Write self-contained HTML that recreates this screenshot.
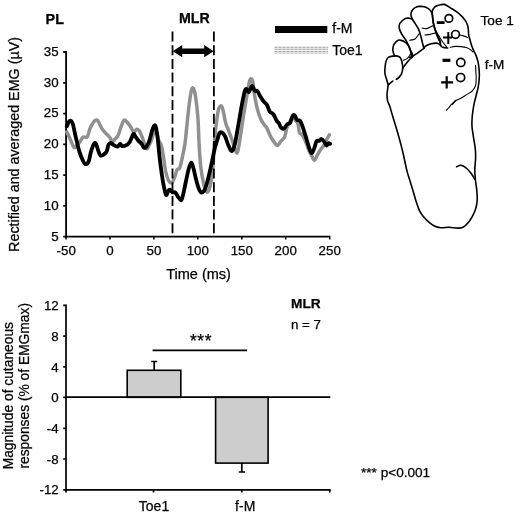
<!DOCTYPE html>
<html>
<head>
<meta charset="utf-8">
<title>Figure</title>
<style>
html,body{margin:0;padding:0;background:#fff;}
body{width:520px;height:515px;overflow:hidden;}
svg{display:block;}
text{font-family:"Liberation Sans",Arial,Helvetica,sans-serif;fill:#000;}
.t13{font-size:13.3px;}
text{stroke:#000;stroke-width:0.25px;}
.t14{font-size:14px;}
.b{font-weight:bold;}
</style>
</head>
<body>
<svg width="520" height="515" viewBox="0 0 520 515">
<rect x="0" y="0" width="520" height="515" fill="#fff"/>

<!-- top chart axes -->
<g stroke="#000" stroke-width="1.8" fill="none">
<path d="M66.1,51.1V236.65H329.7"/>
<path d="M63.2,52H66.2M63.2,82.8H66.2M63.2,113.6H66.2M63.2,144.3H66.2M63.2,175.1H66.2M63.2,205.9H66.2M63.2,236.7H66.2"/>
<path d="M66.1,236.7V239.6M110,236.7V239.6M153.9,236.7V239.6M197.8,236.7V239.6M241.8,236.7V239.6M285.7,236.7V239.6M329.7,235.8V239.6" stroke-width="1.5"/>
</g>
<g class="t13" text-anchor="end">
<text x="58.6" y="55.8">35</text>
<text x="58.6" y="86.6">30</text>
<text x="58.6" y="117.4">25</text>
<text x="58.6" y="148.1">20</text>
<text x="58.6" y="178.9">15</text>
<text x="58.6" y="209.7">10</text>
<text x="58.6" y="240.5">5</text>
</g>
<g class="t13" text-anchor="middle">
<text x="66.2" y="255">-50</text>
<text x="110" y="255">0</text>
<text x="153.9" y="255">50</text>
<text x="197.8" y="255">100</text>
<text x="241.8" y="255">150</text>
<text x="285.7" y="255">200</text>
<text x="329.7" y="255">250</text>
</g>
<text font-size="14.5" x="198.6" y="278.8" text-anchor="middle">Time (ms)</text>
<text font-size="14.3" transform="translate(18.9,251.9) rotate(-90)">Rectified and averaged EMG (µV)</text>
<text class="b" font-size="14.4" x="45.6" y="24">PL</text>
<text class="b" font-size="14.2" x="194.3" y="22.9" text-anchor="middle">MLR</text>

<!-- arrow -->
<path d="M172.7,51.2L182.2,45.1V48.5H204.2V45.1L213.7,51.2L204.2,57.3V53.9H182.2V57.3Z" fill="#000"/>

<path d="M66.8,132.1C67.3,133.1 68.7,135.9 69.7,138.0C70.7,140.1 71.8,143.2 72.6,144.8C73.4,146.4 73.8,147.7 74.6,147.7C75.4,147.7 76.5,145.9 77.5,144.8C78.5,143.7 79.4,142.2 80.4,140.9C81.4,139.6 82.2,137.7 83.3,137.0C84.4,136.3 86.1,138.4 87.2,137.0C88.3,135.6 89.0,130.9 90.1,128.3C91.2,125.7 92.9,122.9 94.0,121.5C95.1,120.1 96.1,119.9 96.9,120.1C97.7,120.2 98.0,121.0 98.8,122.4C99.6,123.8 100.6,126.5 101.7,128.3C102.8,130.1 104.3,131.7 105.6,133.1C106.9,134.5 108.4,135.6 109.5,137.0C110.6,138.4 111.4,141.5 112.4,141.8C113.4,142.1 114.3,140.0 115.3,138.9C116.3,137.8 117.3,137.1 118.3,135.0C119.3,132.9 120.2,128.8 121.2,126.3C122.2,123.8 123.1,120.8 124.1,120.1C125.1,119.4 125.9,120.8 127.0,122.0C128.1,123.2 129.8,125.6 130.9,127.3C132.0,129.0 132.8,131.8 133.8,132.1C134.8,132.4 135.7,129.3 136.7,129.2C137.7,129.0 138.6,129.7 139.6,131.2C140.6,132.7 141.4,135.1 142.5,138.0C143.6,140.9 145.3,147.5 146.4,148.6C147.5,149.7 148.3,146.6 149.3,144.8C150.3,143.0 151.3,140.5 152.2,138.0C153.1,135.5 153.8,131.0 154.5,130.0C155.2,129.0 155.8,130.3 156.5,132.0C157.2,133.7 157.8,137.7 158.6,140.0C159.4,142.3 160.6,143.1 161.4,146.0C162.2,148.9 162.9,153.2 163.6,157.5C164.3,161.8 164.9,167.7 165.7,171.5C166.5,175.3 167.4,178.3 168.4,180.2C169.4,182.1 170.9,183.2 171.9,182.8C172.9,182.4 173.6,179.8 174.5,177.6C175.4,175.4 176.2,171.3 177.1,169.7C178.0,168.1 178.8,170.0 179.7,168.0C180.6,166.0 181.4,161.6 182.3,157.5C183.2,153.4 184.3,148.4 185.0,143.5C185.7,138.6 185.9,135.1 186.6,128.3C187.3,121.5 188.6,108.9 189.4,102.6C190.2,96.2 190.9,92.6 191.5,90.2C192.1,87.8 192.6,87.5 193.2,88.2C193.8,88.9 194.4,89.8 195.2,94.5C196.0,99.2 197.1,108.0 197.8,116.6C198.5,125.2 198.7,137.7 199.2,146.0C199.7,154.3 200.0,160.2 200.7,166.2C201.4,172.2 202.4,177.9 203.3,182.0C204.2,186.1 205.1,189.1 205.9,190.7C206.7,192.3 207.3,192.5 208.0,191.6C208.7,190.7 209.6,188.3 210.3,185.5C211.0,182.7 211.6,178.9 212.1,175.0C212.6,171.1 212.9,167.8 213.3,162.0C213.7,156.2 214.0,147.2 214.6,140.0C215.2,132.8 216.2,124.2 216.9,119.0C217.6,113.8 218.0,110.7 218.8,108.5C219.6,106.3 220.8,105.5 221.6,106.1C222.4,106.7 222.7,109.1 223.4,112.0C224.1,114.9 224.9,120.5 225.8,123.6C226.7,126.7 227.6,127.9 228.6,130.6C229.6,133.3 230.9,136.7 232.1,140.0C233.3,143.3 234.7,148.4 235.6,150.4C236.5,152.4 236.8,154.2 237.6,151.9C238.4,149.7 239.3,143.0 240.3,136.9C241.3,130.8 242.4,122.4 243.5,115.6C244.6,108.8 245.8,102.0 246.8,96.3C247.8,90.6 248.8,84.3 249.5,81.4C250.2,78.5 250.5,78.8 251.0,78.8C251.5,78.8 252.1,78.5 252.7,81.4C253.3,84.3 253.9,91.7 254.7,96.3C255.5,100.9 256.4,105.3 257.4,109.1C258.4,112.8 259.5,116.3 260.6,118.8C261.7,121.3 262.7,122.5 263.8,124.1C264.9,125.7 265.9,126.4 267.0,128.4C268.1,130.4 269.2,133.8 270.3,135.9C271.4,138.0 272.3,139.6 273.5,141.2C274.7,142.8 276.1,145.5 277.3,145.5C278.5,145.5 279.7,142.6 280.9,141.2C282.1,139.8 283.6,139.0 284.6,136.9C285.6,134.8 285.9,130.9 286.7,128.4C287.5,125.9 288.5,123.8 289.5,122.0C290.5,120.2 291.6,117.9 292.7,117.7C293.8,117.5 295.0,119.8 295.9,120.9C296.8,122.0 297.4,122.1 298.0,124.1C298.6,126.1 298.8,130.9 299.5,132.7C300.2,134.5 301.3,133.4 302.3,134.8C303.3,136.2 304.4,138.7 305.5,141.2C306.6,143.7 307.6,147.2 308.7,149.7C309.8,152.2 310.9,154.4 311.9,156.2C312.9,158.0 313.6,160.6 314.5,160.4C315.4,160.2 316.3,156.9 317.3,155.1C318.3,153.3 319.4,151.3 320.5,149.7C321.6,148.1 322.6,147.3 323.7,145.5C324.8,143.7 325.9,140.8 326.9,139.0C327.8,137.2 329.0,135.5 329.4,134.8" fill="none" stroke="#909090" stroke-width="3.5" stroke-linejoin="round" stroke-linecap="round"/>
<path d="M66.8,126.3C67.3,125.4 68.7,121.4 69.7,120.9C70.7,120.4 71.6,120.9 72.6,123.4C73.6,125.9 74.4,131.3 75.5,136.0C76.6,140.7 78.1,147.4 79.4,151.6C80.7,155.8 82.2,159.2 83.3,161.3C84.4,163.4 85.3,164.2 86.2,164.2C87.1,164.2 87.9,163.4 88.7,161.3C89.5,159.2 90.1,154.5 91.0,151.6C91.9,148.7 93.2,145.1 94.0,143.8C94.8,142.5 95.3,142.8 96.0,143.8C96.7,144.8 97.2,147.7 97.9,149.6C98.6,151.5 99.4,154.6 100.4,155.4C101.4,156.2 102.7,155.1 103.7,154.5C104.7,153.9 105.8,153.2 106.6,151.6C107.4,150.0 107.8,146.3 108.5,144.8C109.2,143.3 109.7,142.8 110.5,142.8C111.3,142.8 112.3,144.2 113.4,144.8C114.5,145.5 116.2,146.9 117.3,146.7C118.4,146.5 119.4,143.9 120.2,143.8C121.0,143.7 121.0,145.9 122.1,146.1C123.2,146.3 125.7,145.5 127.0,144.8C128.3,144.1 128.8,143.6 129.9,141.8C131.0,140.0 132.4,134.9 133.4,134.1C134.4,133.3 134.8,135.9 135.7,137.0C136.6,138.1 137.6,139.8 138.6,140.9C139.6,142.0 140.7,142.7 141.6,143.8C142.5,144.9 143.1,147.2 143.9,147.7C144.7,148.2 145.5,147.8 146.4,146.7C147.3,145.6 148.3,143.7 149.3,140.9C150.3,138.2 151.3,132.8 152.2,130.2C153.1,127.6 153.9,125.6 154.6,125.3C155.2,125.0 155.5,125.9 156.1,128.3C156.7,130.8 157.3,135.1 157.9,140.0C158.5,144.9 158.9,151.7 159.6,157.5C160.3,163.3 161.2,170.1 161.9,175.0C162.6,179.9 163.3,183.8 164.0,187.2C164.7,190.5 165.4,194.5 166.1,195.1C166.8,195.7 167.7,191.6 168.4,190.7C169.1,189.8 169.4,189.5 170.1,189.8C170.8,190.1 171.8,192.0 172.7,192.4C173.6,192.8 174.4,191.7 175.3,192.4C176.2,193.1 177.0,195.5 178.0,196.8C179.0,198.1 180.2,200.7 181.1,200.3C182.0,199.9 182.4,197.2 183.2,194.2C184.0,191.1 184.9,186.1 185.8,182.0C186.7,177.9 187.6,172.9 188.5,169.7C189.4,166.5 190.3,163.0 191.1,162.7C191.9,162.4 192.6,165.4 193.4,168.0C194.2,170.6 194.9,175.2 195.8,178.5C196.7,181.8 197.7,185.8 198.6,188.1C199.5,190.4 200.1,192.0 201.0,192.4C201.9,192.8 203.2,192.1 204.2,190.7C205.2,189.2 205.9,186.6 206.8,183.7C207.7,180.8 208.5,177.0 209.4,173.2C210.3,169.4 211.2,165.1 212.1,161.0C213.0,156.9 213.8,152.2 214.7,148.7C215.6,145.2 216.5,142.6 217.3,140.0C218.1,137.4 218.5,134.7 219.3,133.4C220.1,132.2 221.0,132.0 222.0,132.5C223.0,133.0 224.1,134.4 225.1,136.4C226.1,138.4 227.1,142.3 228.1,144.6C229.1,146.9 230.1,149.5 230.9,150.4C231.7,151.3 232.2,151.6 233.0,150.0C233.8,148.4 234.6,145.3 235.5,141.0C236.4,136.7 237.4,130.0 238.5,124.0C239.6,118.0 240.8,110.3 241.8,105.0C242.8,99.7 243.8,94.7 244.5,92.0C245.2,89.3 245.6,89.0 246.3,89.0C247.0,89.0 247.9,92.5 248.9,92.0C249.9,91.5 251.1,86.0 252.1,85.8C253.1,85.6 253.9,90.1 254.8,91.0C255.7,91.9 256.5,90.1 257.4,91.0C258.3,91.9 259.1,94.5 260.2,96.3C261.3,98.1 262.7,100.3 263.8,101.7C264.9,103.1 266.0,103.3 267.0,104.9C268.0,106.5 268.5,109.7 269.6,111.3C270.7,112.9 272.3,112.9 273.5,114.5C274.7,116.1 275.8,119.5 276.7,120.9C277.6,122.3 278.1,121.9 278.8,123.0C279.5,124.1 280.1,126.3 280.9,127.3C281.7,128.3 282.6,129.3 283.7,128.8C284.8,128.3 286.3,125.1 287.4,124.1C288.5,123.1 289.3,124.2 290.1,123.0C290.9,121.8 291.6,117.9 292.3,116.6C293.0,115.3 293.6,114.6 294.4,115.1C295.2,115.6 296.0,118.8 297.0,119.8C298.0,120.8 299.2,119.7 300.2,120.9C301.2,122.2 301.9,124.6 302.9,127.3C303.8,130.0 304.9,133.7 305.9,136.9C306.9,140.1 307.8,143.8 308.7,146.5C309.6,149.2 310.6,152.5 311.5,152.9C312.4,153.3 313.2,150.6 314.1,148.7C315.0,146.8 315.7,142.5 316.6,141.2C317.5,139.9 318.6,141.2 319.4,140.8C320.2,140.4 320.6,138.8 321.5,139.0C322.4,139.2 323.9,141.2 324.7,142.3C325.5,143.4 325.9,145.3 326.5,145.5C327.1,145.7 328.0,143.6 328.6,143.3C329.2,143.0 329.9,143.7 330.1,143.8" fill="none" stroke="#000" stroke-width="3.8" stroke-linejoin="round" stroke-linecap="round"/>
<!-- dashed window -->
<g stroke="#000" stroke-width="1.8" stroke-dasharray="10 3.7" fill="none">
<path d="M172.5,31.5V236"/>
<path d="M213.9,31.5V236"/>
</g>

<!-- legend -->
<rect x="275" y="26" width="52.3" height="7" fill="#000"/>
<rect x="274.5" y="46.4" width="53.6" height="7.4" fill="#f1f1f1"/>
<g stroke="#a4a4a4" stroke-width="1" stroke-dasharray="3.1 0.9" fill="none">
<path d="M274.5,47.3H328.1"/>
<path d="M274.5,49.3H328.1"/>
<path d="M274.5,51.6H328.1"/>
<path d="M274.5,53.2H328.1" stroke="#c4c4c4"/>
</g>
<text font-size="14" x="332.3" y="33.2">f-M</text>
<text font-size="14" x="332.3" y="54.9">Toe1</text>

<!-- foot -->
<g fill="none" stroke="#000" stroke-width="1.6" stroke-linecap="round" stroke-linejoin="round">
<path d="M423.7,47.8C423.5,47.0 423.0,45.0 422.5,43.1C422.0,41.2 421.5,38.4 420.8,36.1C420.1,33.8 419.5,31.2 418.5,29.1C417.5,27.0 416.1,25.1 415.0,23.3C413.9,21.6 412.8,20.1 412.1,18.6C411.4,17.2 410.9,15.9 410.9,14.6C410.9,13.2 411.4,11.7 412.1,10.5C412.8,9.3 413.8,8.3 415.0,7.6C416.2,6.9 418.1,6.5 419.6,6.4C421.2,6.3 422.8,6.4 424.3,6.8C425.8,7.2 427.2,7.9 428.4,8.7C429.6,9.5 430.6,10.6 431.3,11.7C432.0,12.8 432.1,13.6 432.4,15.2C432.7,16.8 432.7,19.1 433.0,21.0C433.3,22.9 433.7,24.9 434.2,26.8C434.7,28.7 435.2,30.7 435.9,32.6C436.6,34.6 437.6,36.9 438.3,38.5C439.0,40.1 439.9,41.8 440.2,42.5"/>
<path d="M412.1,19.0C411.6,18.9 410.3,18.3 409.1,18.2C407.9,18.1 406.7,17.8 405.1,18.6C403.6,19.5 400.8,21.7 399.8,23.3C398.8,24.9 398.9,26.2 399.2,28.0C399.5,29.8 400.6,32.0 401.6,33.8C402.6,35.6 404.0,37.2 405.1,39.0C406.2,40.8 407.1,42.4 408.0,44.3C408.9,46.1 409.7,48.4 410.3,50.1C410.9,51.9 411.4,53.6 411.5,54.8C411.6,56.0 411.0,56.8 410.9,57.2"/>
<path d="M409.7,40.2C410.6,40.0 413.4,40.1 415.0,39.0C416.6,37.9 418.3,34.7 419.0,33.8" stroke-width="1.1"/>
<path d="M422.0,28.0C422.8,28.1 425.0,28.9 426.6,28.6C428.2,28.3 430.7,26.7 431.9,26.2C433.1,25.7 433.6,25.6 434.0,25.5" stroke-width="1.1"/>
<path d="M424.9,35.0C425.8,34.9 428.6,34.7 430.1,34.4C431.7,34.1 433.1,33.5 434.2,33.2C435.3,32.9 436.1,32.7 436.5,32.6" stroke-width="1.1"/>
<path d="M410.9,53.2C410.8,52.6 410.8,51.1 410.3,49.7C409.8,48.3 408.9,46.2 408.0,45.0C407.1,43.8 406.1,42.9 405.1,42.2C404.1,41.5 403.3,40.9 402.1,40.6C400.9,40.3 399.5,39.6 398.1,40.2C396.8,40.8 394.9,42.8 394.0,44.3C393.1,45.8 392.9,47.6 392.8,49.0C392.7,50.4 393.1,51.6 393.4,52.8C393.7,54.0 394.4,55.5 394.6,56.1"/>
<path d="M411.5,52.0C411.7,52.6 412.6,54.5 412.6,55.5C412.6,56.5 412.0,57.5 411.5,57.8C411.0,58.1 410.0,57.3 409.7,57.2"/>
<path d="M403.3,60.2C404.0,59.9 406.3,59.2 407.4,58.4C408.5,57.6 409.1,56.4 409.7,55.5C410.3,54.6 410.7,53.6 410.9,53.2" stroke-width="1.1"/>
<path d="M388.2,84.6C387.9,83.6 386.9,80.7 386.4,78.8C385.8,76.9 385.1,75.1 384.9,73.0C384.7,70.9 384.9,68.1 385.2,66.0C385.4,63.9 385.8,61.7 386.4,60.2C387.0,58.7 387.6,57.9 388.7,57.2C389.8,56.5 391.3,56.3 392.8,56.1C394.3,55.9 396.2,55.8 397.5,56.1C398.8,56.4 399.6,56.7 400.4,57.8C401.2,58.9 401.7,60.8 402.1,62.5C402.5,64.2 402.8,66.5 402.7,68.3C402.6,70.1 402.2,72.1 401.6,73.6C401.0,75.1 400.1,76.1 399.2,77.1C398.3,78.1 396.8,79.0 396.3,79.4"/>
<path d="M392.8,81.1C392.4,81.4 391.2,82.3 390.5,82.9C389.8,83.5 389.0,84.3 388.7,84.6"/>
<path d="M424.3,48.2C423.3,48.9 420.4,50.9 418.5,52.3C416.6,53.7 414.4,55.0 412.6,56.5C410.9,58.0 409.4,59.6 408.0,61.3C406.6,63.0 404.8,65.4 403.9,66.6C403.0,67.8 402.9,68.0 402.7,68.3"/>
<path d="M423.7,47.8C424.2,47.4 425.3,46.2 426.6,45.5C427.9,44.8 429.8,44.1 431.3,43.7C432.9,43.3 434.7,43.1 435.9,43.1C437.1,43.1 437.7,43.2 438.5,43.6C439.3,44.0 440.3,45.2 440.7,45.5"/>
<path d="M432.2,11.7C432.4,11.1 432.9,9.2 433.7,8.2C434.4,7.2 435.5,6.4 436.7,5.8C437.9,5.2 439.4,4.9 440.7,4.7C441.9,4.5 443.1,4.2 444.2,4.4C445.3,4.6 445.8,5.1 447.1,5.8C448.4,6.5 450.2,7.7 451.8,8.7C453.4,9.7 454.9,10.5 456.5,11.7C458.1,12.9 459.7,14.2 461.1,15.7C462.6,17.1 464.1,18.8 465.2,20.4C466.3,22.0 467.0,23.5 467.5,25.1C468.0,26.8 468.2,28.7 468.4,30.3C468.6,31.9 468.4,33.5 468.7,35.0C468.9,36.5 469.4,37.9 469.9,39.6C470.4,41.4 470.9,43.5 471.6,45.5C472.3,47.5 473.2,49.6 474.0,51.3C474.8,53.0 475.5,54.0 476.2,55.9C476.9,57.8 477.7,60.2 478.2,62.7C478.7,65.2 479.0,68.1 479.2,70.8C479.4,73.5 479.4,76.3 479.2,79.0C479.0,81.7 478.7,84.4 478.2,87.1C477.7,89.8 476.9,92.6 476.2,95.3C475.5,98.0 474.8,100.7 474.2,103.4C473.6,106.1 473.2,108.8 472.8,111.6C472.4,114.4 472.1,117.5 472.0,120.0C471.9,122.5 471.8,123.8 472.0,126.7C472.2,129.6 473.0,133.8 473.5,137.3C474.0,140.8 474.8,144.4 475.2,147.9C475.6,151.4 475.7,155.0 475.6,158.5C475.5,162.0 474.9,165.6 474.8,169.0C474.8,172.4 475.0,175.6 475.3,179.0C475.6,182.4 476.4,186.1 476.7,189.6C477.0,193.1 477.4,197.0 477.2,200.2C477.0,203.4 476.5,206.0 475.7,208.7C474.9,211.3 473.7,213.8 472.5,216.1C471.3,218.4 469.9,220.5 468.3,222.4C466.7,224.3 464.8,226.4 463.0,227.3C461.2,228.2 460.0,228.1 457.7,228.1C455.4,228.1 452.0,227.4 449.2,227.3C446.4,227.2 443.3,227.9 440.8,227.7C438.3,227.5 436.3,226.9 434.4,226.0C432.4,225.1 430.9,223.9 429.1,222.4C427.3,220.9 425.4,219.0 423.8,217.1C422.2,215.2 420.8,213.3 419.6,210.8C418.4,208.3 417.4,205.5 416.4,202.3C415.3,199.1 414.4,195.2 413.3,191.7C412.2,188.2 411.2,184.7 410.1,181.2C409.0,177.7 408.0,175.1 406.9,170.6C405.8,166.1 404.4,159.0 403.3,154.2C402.2,149.3 401.2,145.7 400.1,141.5C399.0,137.3 397.7,133.0 396.5,128.8C395.3,124.6 393.9,120.1 392.7,116.2C391.5,112.3 390.4,108.1 389.5,105.6C388.6,103.0 388.0,102.7 387.6,100.9C387.2,99.2 387.0,97.0 387.0,95.1C387.0,93.2 387.4,91.0 387.6,89.3C387.8,87.5 388.1,85.4 388.2,84.6"/>
<path d="M432.2,11.7C432.3,12.7 432.4,15.4 432.6,17.5C432.9,19.6 433.2,22.4 433.7,24.5C434.2,26.6 434.8,28.4 435.5,30.3C436.2,32.2 437.0,34.2 437.8,36.1C438.6,38.0 439.7,39.8 440.2,41.4C440.7,43.0 440.3,44.5 440.7,45.5C441.1,46.5 441.3,46.8 442.5,47.2C443.7,47.6 446.8,47.9 447.7,48.0"/>
<path d="M434.9,29.1C435.6,30.3 437.6,33.9 439.0,36.1C440.4,38.3 441.8,40.7 443.1,42.5C444.4,44.3 446.0,46.2 446.6,46.9" stroke-width="1.1"/>
<path d="M450.1,47.2C451.0,47.1 453.5,46.5 455.3,46.4C457.1,46.3 459.2,46.4 461.1,46.6C463.1,46.8 465.4,47.2 467.0,47.8C468.6,48.4 470.0,49.4 471.0,50.1C472.0,50.8 472.5,51.6 472.8,51.9" stroke-width="1.1"/>
<path d="M459.4,35.0C460.1,35.1 462.1,35.5 463.5,35.9C464.9,36.3 466.8,37.2 467.5,37.5" stroke-width="1.1"/>
<path d="M475.5,65.4C475.6,66.5 475.8,69.9 475.9,72.2C476.0,74.5 476.3,76.7 476.2,79.0C476.1,81.3 476.2,83.8 475.5,85.8C474.8,87.8 473.6,89.7 472.1,91.2C470.6,92.7 468.5,93.5 466.7,94.6C464.9,95.7 463.1,97.0 461.3,98.0C459.5,99.0 457.4,99.7 455.8,100.7C454.2,101.7 452.8,103.0 451.7,104.1C450.6,105.2 449.9,106.5 449.0,107.5C448.1,108.5 446.8,109.8 446.3,110.2" stroke-width="1.1"/>
<path d="M455.4,100.4C454.9,101.1 452.8,104.1 452.6,104.4C452.4,104.7 454.1,102.4 454.4,102.0" stroke-width="1.1"/>
<path d="M456.6,166.8C457.3,166.6 459.3,165.1 460.9,165.3C462.5,165.5 464.4,166.6 466.2,168.0C467.9,169.4 470.0,172.0 471.4,173.8C472.8,175.6 474.1,178.1 474.6,179.0"/>
</g>
<g fill="#fff" stroke="#000" stroke-width="1.7">
<circle cx="448.9" cy="18.4" r="3.8"/>
<circle cx="455.5" cy="34.4" r="3.9"/>
<circle cx="460.8" cy="62.4" r="4.1"/>
<circle cx="460.6" cy="77.6" r="4.1"/>
</g>
<g stroke="#000" fill="none">
<path d="M436.8,22.6H444.6" stroke-width="2.8"/>
<path d="M442.5,60.3H450.4" stroke-width="3.2"/>
<path d="M448.3,32V44M443,37.5H452" stroke-width="2"/>
<path d="M446.7,76.3V88.5M441.1,82.4H453.1" stroke-width="2.2"/>
</g>
<text font-size="13.7" x="480.5" y="24.9">Toe 1</text>
<text font-size="13.6" x="484.8" y="69.4">f-M</text>

<!-- bottom chart -->
<rect x="127.2" y="370.3" width="53.6" height="27" fill="#cdcdcd" stroke="#000" stroke-width="1.6"/>
<rect x="215.6" y="397.3" width="52.5" height="65.8" fill="#cdcdcd" stroke="#000" stroke-width="1.6"/>
<g stroke="#000" stroke-width="1.7" fill="none">
<path d="M66,304.6V492.6"/>
<path d="M66,397.1H330.3"/>
<path d="M66,489.8H330.3"/>
<path d="M63.2,305.4H66.2M63.2,336.1H66.2M63.2,366.9H66.2M63.2,397.3H66.2M63.2,428.3H66.2M63.2,459H66.2M63.2,489.8H66.2"/>
<path d="M153.5,489.8V492.5M241.8,489.8V492.5M329.8,489.2V492.5"/>
<path d="M154.2,370.3V361.5M151.2,361.5H157.2"/>
<path d="M241.8,463.1V472M238.8,472H245"/>
<path d="M152.6,350.3H247.1"/>
</g>
<g class="t13" text-anchor="end">
<text x="58.7" y="310">12</text>
<text x="58.7" y="340.7">8</text>
<text x="58.7" y="371.5">4</text>
<text x="58.7" y="402.1">0</text>
<text x="58.7" y="432.9">-4</text>
<text x="58.7" y="463.6">-8</text>
<text x="58.7" y="494.4">-12</text>
</g>
<text font-size="14" x="154" y="510.8" text-anchor="middle">Toe1</text>
<text font-size="14" x="245.2" y="511" text-anchor="middle">f-M</text>
<text font-size="17.5" letter-spacing="0.5" x="201" y="347.2" text-anchor="middle">***</text>
<text class="b" font-size="13.7" x="291" y="308">MLR</text>
<text class="t13" x="291" y="329.1">n = 7</text>
<text font-size="13.6" x="361" y="477.3">*** p&lt;0.001</text>
<text font-size="13.8" transform="translate(12.5,469.3) rotate(-90)">Magnitude of cutaneous</text>
<text font-size="13.8" transform="translate(29.2,468.6) rotate(-90)">responses (% of EMGmax)</text>
</svg>
</body>
</html>
